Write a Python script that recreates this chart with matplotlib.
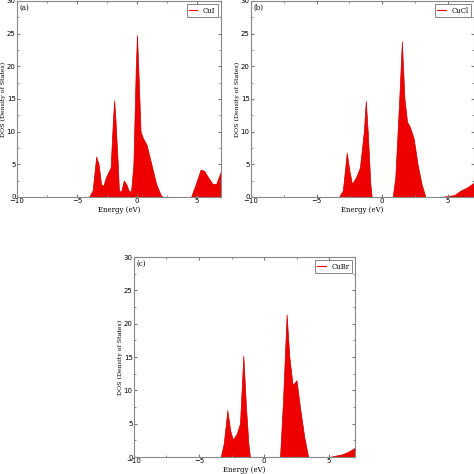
import matplotlib
matplotlib.use("Agg")
import matplotlib.pyplot as plt
from matplotlib.ticker import AutoMinorLocator

cui_e = [-10, -4.0, -3.7, -3.4, -3.2, -3.0, -2.8, -2.6, -2.2, -2.0, -1.9, -1.8, -1.6, -1.5, -1.3, -1.1, -0.9, -0.7, -0.5, -0.3, -0.1, 0.0, 0.1, 0.3, 0.5, 0.8, 1.2, 1.6, 2.0, 2.2, 4.5, 4.9, 5.3, 5.6, 6.0, 6.3, 6.6, 7.0]
cui_d = [0, 0, 1, 6.2, 5, 2, 1.7, 3, 4.5, 12, 14.8, 12, 5, 0.8, 1, 2.5, 2, 1, 0.8, 5, 20, 24.8, 20, 10, 9, 8, 5, 2, 0.2, 0, 0, 2, 4.2, 4, 2.8, 2, 2, 4]

cucl_e = [-10, -3.3, -3.0, -2.7, -2.5, -2.3, -2.0, -1.7, -1.4, -1.25, -1.1, -0.9, -0.8, 0.8, 1.0, 1.3, 1.5, 1.7, 1.9, 2.1, 2.4, 2.7, 3.0, 3.3, 4.5, 5.5, 6.0, 6.5, 7.0]
cucl_d = [0, 0, 1, 6.8, 4, 2, 3, 4.5, 10, 14.7, 10, 2, 0, 0, 3, 15, 23.8, 15, 11.5, 10.8, 9, 5, 2, 0, 0, 0.3, 1, 1.5, 2.2]

cubr_e = [-10, -3.33, -3.1, -2.82, -2.6, -2.4, -2.1, -1.85, -1.59, -1.4, -1.2, -1.08, 1.23, 1.45, 1.74, 1.95, 2.2, 2.5, 2.8, 3.1, 3.4, 5.0, 6.0, 6.5, 7.0]
cubr_d = [0, 0, 2, 7, 4, 2.6, 3.5, 5, 15.2, 8, 2, 0, 0, 8, 21.4, 15, 10.8, 11.5, 7, 3, 0, 0, 0.4, 0.8, 1.4]

panels = [("(a)", "CuI", cui_e, cui_d, [17, 221, 1, 197]),
          ("(b)", "CuCl", cucl_e, cucl_d, [251, 474, 1, 197]),
          ("(c)", "CuBr", cubr_e, cubr_d, [134, 355, 257, 457])]

fig = plt.figure(figsize=(4.74, 4.74), dpi=100)
W = H = 474
for lab, name, e, d, (l, r, t, b) in panels:
    ax = fig.add_axes([l / W, 1 - b / H, (r - l) / W, (b - t) / H])
    ax.fill_between(e, d, 0, color="#ee0000", lw=0.5, edgecolor="#cc0000")
    ax.plot([], [], color="red", lw=0.8, label=name)
    ax.set_xlim(-10, 7)
    ax.set_ylim(0, 30)
    ax.set_xticks([-10, -5, 0, 5])
    ax.set_yticks([0, 5, 10, 15, 20, 25, 30])
    ax.xaxis.set_minor_locator(AutoMinorLocator(2))
    ax.yaxis.set_minor_locator(AutoMinorLocator(2))
    ax.tick_params(which="both", labelsize=5, direction="in", top=True, right=True, pad=1, color="#777777")
    ax.tick_params(which="major", length=2.5)
    ax.tick_params(which="minor", length=1.3)
    ax.set_xlabel("Energy (eV)", fontsize=5, family="DejaVu Serif", labelpad=1)
    ax.set_ylabel("DOS (Density of States)", fontsize=4.5, family="DejaVu Serif", labelpad=0.5)
    for s in ax.spines.values():
        s.set_color("#888888")
    ax.text(0.01, 0.985, lab, transform=ax.transAxes, fontsize=5, va="top", family="DejaVu Serif")
    leg = ax.legend(loc="upper right", fontsize=5, handlelength=1.2, borderpad=0.3,
                    fancybox=False, framealpha=1, prop={"family": "DejaVu Serif", "size": 5})
    leg.get_frame().set_edgecolor("#555555")
    leg.get_frame().set_linewidth(0.5)

fig.savefig("out.png", dpi=100)
